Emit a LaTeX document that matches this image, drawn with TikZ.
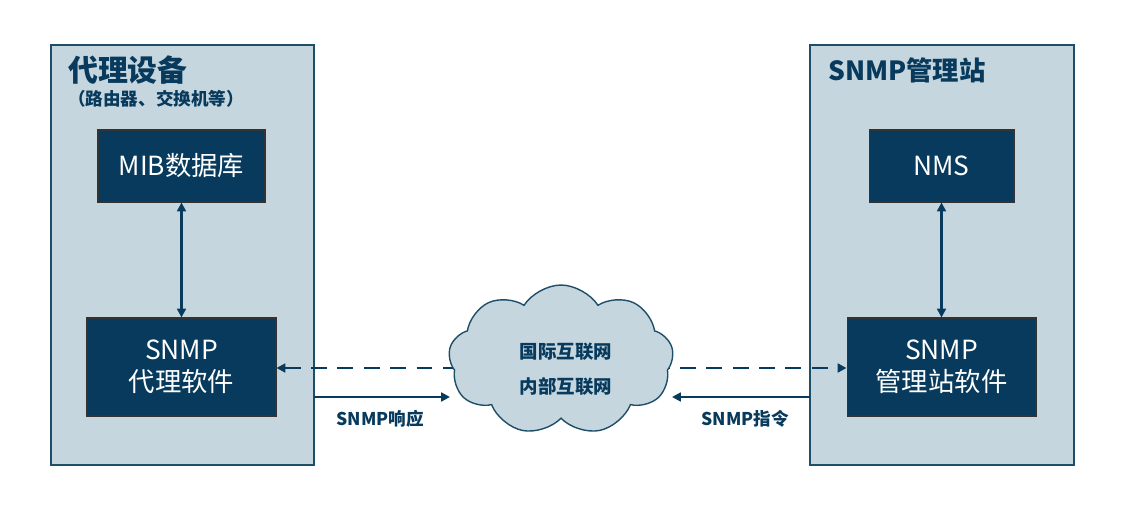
\documentclass[tikz,border=0pt]{standalone}
\usepackage{fontspec}
\setmainfont{Noto Sans CJK SC}
\usetikzlibrary{shapes.symbols,arrows.meta}
\definecolor{panel}{HTML}{C6D6DE}
\definecolor{edge}{HTML}{1F4E68}
\definecolor{dark}{HTML}{073A5C}
\begin{document}
\begin{tikzpicture}[x=0.02cm,y=-0.02cm,
 panelbox/.style={draw=edge,fill=panel,line width=0.8pt},
 darkbox/.style={draw=black!80,fill=dark,text=white,font=\fontsize{15}{18}\selectfont,align=center,line width=0.6pt},
 conn/.style={draw=dark,line width=1.6pt,{Triangle[length=5pt,width=5pt]}-{Triangle[length=5pt,width=5pt]}},
 one/.style={draw=dark,line width=1.6pt,-{Triangle[length=5pt,width=5pt]}},
 lab/.style={text=dark,font=\bfseries\fontsize{10}{12}\selectfont}]
\useasboundingbox (0,0) rectangle (1125,521);
\path[panelbox] (51,45) rectangle (314,465);
\path[panelbox] (810,45) rectangle (1074,465);
\node[lab,font=\bfseries\fontsize{17}{20}\selectfont,anchor=west] (t1) at (62,70) {代理设备};
\node[lab,font=\bfseries\fontsize{10}{12}\selectfont,anchor=west] (t1b) at (62,99) {（路由器、交换机等）};
\node[lab,font=\bfseries\fontsize{15}{18}\selectfont,anchor=west] (t2) at (822,70) {SNMP管理站};
\node[darkbox,minimum width=3.34cm,minimum height=1.44cm] (mib) at (181.5,166) {MIB数据库};
\node[darkbox,minimum width=3.78cm,minimum height=1.96cm] (agent) at (181.5,367) {SNMP\\代理软件};
\node[darkbox,minimum width=2.9cm,minimum height=1.44cm] (nms) at (941.5,166) {NMS};
\node[darkbox,minimum width=3.78cm,minimum height=1.96cm] (mgr) at (941.5,367) {SNMP\\管理站软件};
\draw[conn] (mib) -- (agent);
\draw[conn] (nms) -- (mgr);
\draw[conn,dashed,dash pattern=on 9pt off 6pt] (agent.east|-0,368) -- (mgr.west|-0,368);
\node[cloud,cloud puffs=9,cloud puff arc=115,aspect=1.6,draw=edge,fill=panel,line width=0.8pt,minimum width=4.5cm,minimum height=3.0cm] (cl) at (561,360) {};
\node[lab,font=\bfseries\fontsize{10.5}{12}\selectfont] (c1) at (566,352) {国际互联网};
\node[lab,font=\bfseries\fontsize{10.5}{12}\selectfont] (c2) at (566,387) {内部互联网};
\coordinate (la) at (314,397);
\coordinate (ra) at (810,397);
\draw[one] (la) -- (450,397);
\draw[one] (ra) -- (672,397);
\node[lab] (r1) at (380,419) {SNMP响应};
\node[lab] (r2) at (745,419) {SNMP指令};
\end{tikzpicture}
\end{document}
